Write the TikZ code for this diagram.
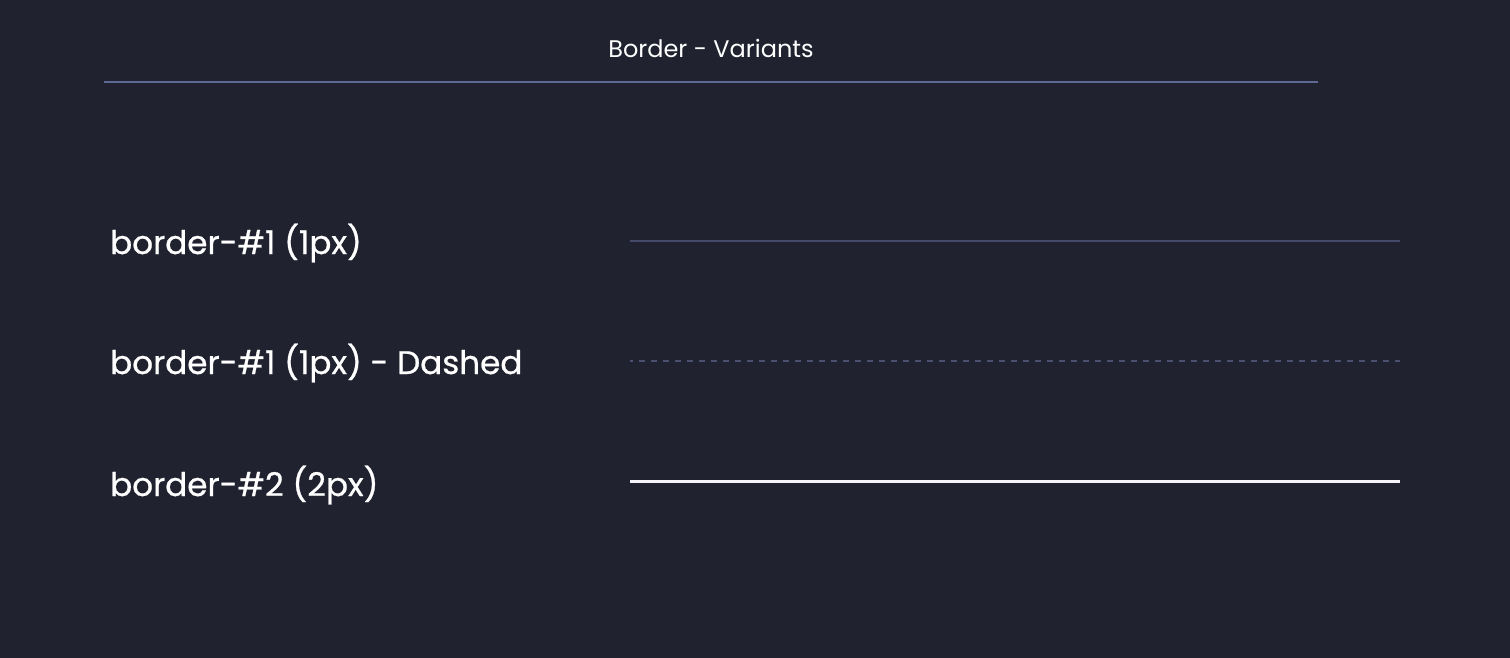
\documentclass[tikz,border=0pt]{standalone}
\usepackage{fontspec}
\setmainfont{Poppins}
\newfontfamily\labfont[FakeBold=0.7]{Poppins}
\definecolor{bg}{HTML}{20222F}
\definecolor{hdr}{HTML}{5E6A94}
\definecolor{thin}{HTML}{444A68}
\definecolor{dash}{HTML}{4A5070}
\definecolor{bright}{HTML}{F4F4FA}
\begin{document}
\begin{tikzpicture}[x=1pt,y=-1pt,
  title/.style={text=white,font=\fontsize{24}{28}\selectfont,inner sep=0pt,anchor=base},
  label/.style={text=white,font=\labfont\fontsize{32.6}{38}\selectfont,inner sep=0pt,anchor=base west},
  thinline/.style={draw=thin,line width=2pt},
  dashline/.style={draw=dash,line width=2pt,dash pattern=on 6pt off 6pt,dash phase=3pt},
  thickline/.style={draw=bright,line width=3pt}]
\fill[bg] (0,0) rectangle (1510,658);
\useasboundingbox (0,0) rectangle (1510,658);
\node[title] (t) at (711,58) {Border - Variants};
\coordinate (h1) at (104,82.5);
\coordinate (h2) at (1318,82.5);
\draw[draw=hdr,line width=2pt] (h1) -- (h2);
\node[label] (l1) at (110,254) {border-\#1 (1px)};
\node[label] (l2) at (110,374) {border-\#1 (1px) - Dashed};
\node[label] (l3) at (110,496) {border-\#2 (2px)};
\coordinate (a1) at (630,241);
\coordinate (b1) at (1400,241);
\coordinate (a2) at (630,361);
\coordinate (b2) at (1400,361);
\coordinate (a3) at (630,481.5);
\coordinate (b3) at (1400,481.5);
\draw[thinline] (a1) -- (b1);
\draw[dashline] (a2) -- (b2);
\draw[thickline] (a3) -- (b3);
\end{tikzpicture}
\end{document}
